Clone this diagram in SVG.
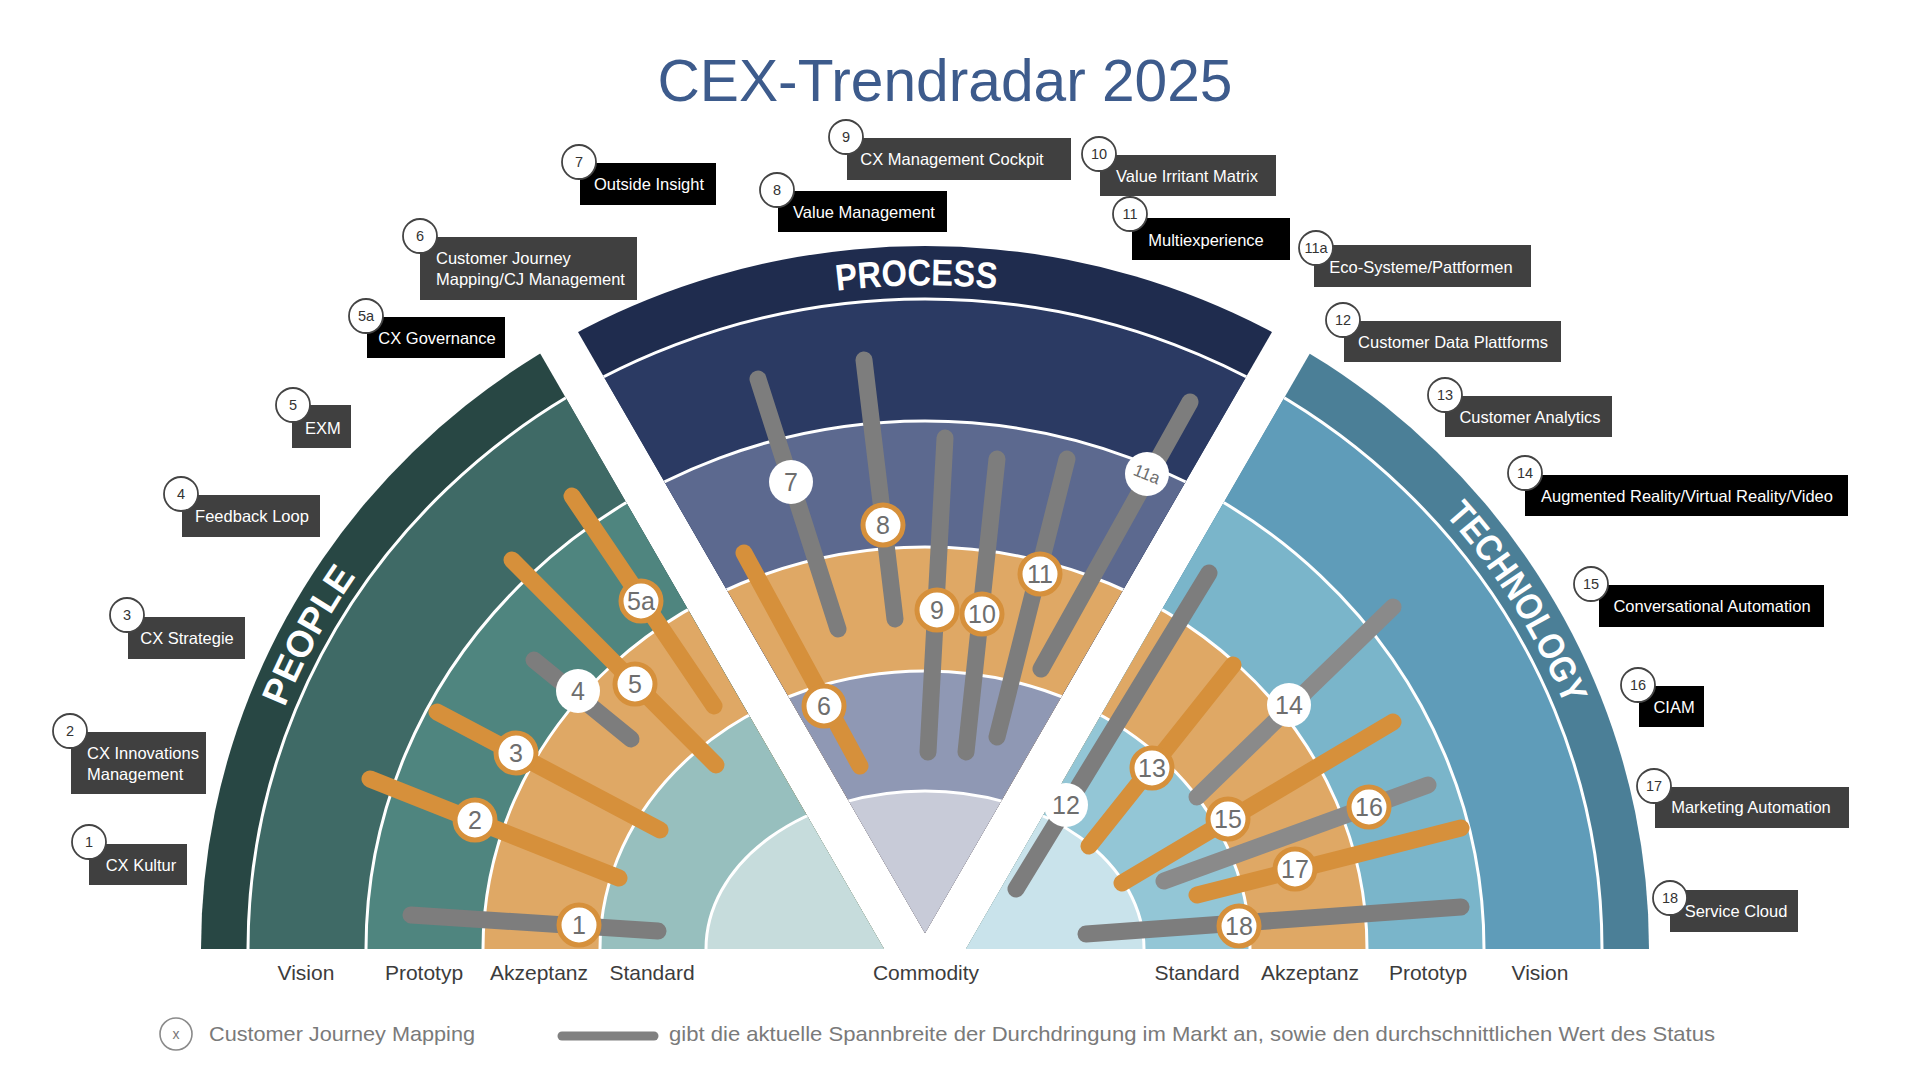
<svg xmlns="http://www.w3.org/2000/svg" width="1920" height="1080" viewBox="0 0 1920 1080">
<defs>
<style>
text{font-family:'Liberation Sans',Arial,sans-serif}
.sep{stroke:#fff;stroke-width:3}
.bar{fill:none;stroke-width:17;stroke-linecap:round}
.bo{stroke:#d6903b}
.bg{stroke:#7d7d7d}
.bo-c{fill:#fff;stroke:#d6903b;stroke-width:5}
.bw-c{fill:#fff}
.bn{font-size:25px;fill:#6e6e6e;text-anchor:middle}
.boxg{fill:#404040}
.boxb{fill:#000}
.lc{fill:#fff;stroke:#444;stroke-width:1.8}
.ln{font-size:14.5px;fill:#333;text-anchor:middle}
.lt{font-size:16.5px;fill:#fff;text-anchor:middle}
.ltl{font-size:16.5px;fill:#fff}
.axis{font-size:21px;fill:#3c3c3c;text-anchor:middle}
.sect{font-size:37px;font-weight:bold;fill:#fff}
</style>
<clipPath id="cp-people"><polygon points="100,949 884,949 393.8,100 100,100"/></clipPath>
<clipPath id="cp-process"><polygon points="925,933 444,100 1406,100"/></clipPath>
<clipPath id="cp-tech"><polygon points="966,949 1456.2,100 1750,100 1750,949"/></clipPath>
<path id="txtarc" d="M 237.4 949 A 687.6 663.6 0 0 1 1612.6 949" fill="none"/>
</defs>
<rect width="1920" height="1080" fill="#fff"/>

<text id="title" x="945" y="101" font-size="59" fill="#3d5b8c" text-anchor="middle" textLength="575" lengthAdjust="spacingAndGlyphs">CEX-Trendradar 2025</text>

<g id="sector-people" clip-path="url(#cp-people)">
<ellipse cx="925" cy="949" rx="724" ry="703" fill="#284744"/>
<ellipse class="sep" cx="925" cy="949" rx="677" ry="650" fill="#3f6a66"/>
<ellipse class="sep" cx="925" cy="949" rx="559" ry="528" fill="#4f857f"/>
<ellipse class="sep" cx="925" cy="949" rx="442" ry="402" fill="#dfa865"/>
<ellipse class="sep" cx="925" cy="949" rx="325" ry="278" fill="#97bfbe"/>
<ellipse class="sep" cx="925" cy="949" rx="219" ry="158" fill="#c6dcdc"/>
</g>
<g id="sector-process" clip-path="url(#cp-process)">
<ellipse cx="925" cy="949" rx="724" ry="703" fill="#1f2c4e"/>
<ellipse class="sep" cx="925" cy="949" rx="677" ry="650" fill="#2b3a63"/>
<ellipse class="sep" cx="925" cy="949" rx="559" ry="528" fill="#5c698f"/>
<ellipse class="sep" cx="925" cy="949" rx="442" ry="402" fill="#dfa865"/>
<ellipse class="sep" cx="925" cy="949" rx="325" ry="278" fill="#8f98b4"/>
<ellipse class="sep" cx="925" cy="949" rx="219" ry="158" fill="#c8cbd8"/>
</g>
<g id="sector-technology" clip-path="url(#cp-tech)">
<ellipse cx="925" cy="949" rx="724" ry="703" fill="#4b7f97"/>
<ellipse class="sep" cx="925" cy="949" rx="677" ry="650" fill="#5f9cb9"/>
<ellipse class="sep" cx="925" cy="949" rx="559" ry="528" fill="#7ab5ca"/>
<ellipse class="sep" cx="925" cy="949" rx="442" ry="402" fill="#dfa865"/>
<ellipse class="sep" cx="925" cy="949" rx="325" ry="278" fill="#93c6d6"/>
<ellipse class="sep" cx="925" cy="949" rx="219" ry="158" fill="#c9e3eb"/>
</g>

<g id="sector-titles">
<text class="sect"><textPath href="#txtarc" startOffset="15.2%" text-anchor="middle" textLength="150" lengthAdjust="spacingAndGlyphs">PEOPLE</textPath></text>
<text class="sect"><textPath href="#txtarc" startOffset="49.6%" text-anchor="middle" textLength="160" lengthAdjust="spacingAndGlyphs">PROCESS</textPath></text>
<text class="sect"><textPath href="#txtarc" startOffset="82.9%" text-anchor="middle" textLength="226" lengthAdjust="spacingAndGlyphs">TECHNOLOGY</textPath></text>
</g>

<g id="ranges">
<line class="bar bg" x1="411" y1="915" x2="658" y2="931"/>
<line class="bar bo" x1="370" y1="779" x2="619" y2="878"/>
<line class="bar bo" x1="437" y1="712" x2="660" y2="830"/>
<line class="bar bg" x1="534" y1="660" x2="631" y2="739"/>
<line class="bar bo" x1="512" y1="560" x2="716" y2="765"/>
<line class="bar bo" x1="572" y1="496" x2="714" y2="706"/>
<line class="bar bo" x1="744" y1="553" x2="860" y2="766"/>
<line class="bar bg" x1="758" y1="379" x2="838" y2="629"/>
<line class="bar bg" x1="864" y1="360" x2="895" y2="619"/>
<line class="bar bg" x1="945" y1="438" x2="928" y2="752"/>
<line class="bar bg" x1="997" y1="459" x2="966" y2="752"/>
<line class="bar bg" x1="1067" y1="459" x2="997" y2="737"/>
<line class="bar bg" x1="1190" y1="402" x2="1041" y2="669"/>
<line class="bar bg" x1="1209" y1="573" x2="1016" y2="889"/>
<line class="bar bo" x1="1233" y1="665" x2="1089" y2="846"/>
<line class="bar bg" x1="1393" y1="607" x2="1197" y2="797" style="stroke:#8a8a8a"/>
<line class="bar bo" x1="1393" y1="722" x2="1122" y2="883"/>
<line class="bar bg" x1="1428" y1="785" x2="1164" y2="881" style="stroke:#8a8a8a"/>
<line class="bar bo" x1="1461" y1="828" x2="1197" y2="895"/>
<line class="bar bg" x1="1461" y1="907" x2="1086" y2="934"/>
</g>

<g id="item-1"><circle class="bo-c" cx="579" cy="925" r="20"/><text class="bn" x="579" y="934">1</text></g>
<g id="item-2"><circle class="bo-c" cx="475" cy="820" r="20"/><text class="bn" x="475" y="829">2</text></g>
<g id="item-3"><circle class="bo-c" cx="516" cy="753" r="20"/><text class="bn" x="516" y="762">3</text></g>
<g id="item-4"><circle class="bw-c" cx="578" cy="691" r="22"/><text class="bn" x="578" y="700">4</text></g>
<g id="item-5"><circle class="bo-c" cx="635" cy="684" r="20"/><text class="bn" x="635" y="693">5</text></g>
<g id="item-5a"><circle class="bo-c" cx="641" cy="601" r="20"/><text class="bn" x="641" y="610">5a</text></g>
<g id="item-6"><circle class="bo-c" cx="824" cy="706" r="20"/><text class="bn" x="824" y="715">6</text></g>
<g id="item-7"><circle class="bw-c" cx="791" cy="482" r="22"/><text class="bn" x="791" y="491">7</text></g>
<g id="item-8"><circle class="bo-c" cx="883" cy="525" r="20"/><text class="bn" x="883" y="534">8</text></g>
<g id="item-9"><circle class="bo-c" cx="937" cy="610" r="20"/><text class="bn" x="937" y="619">9</text></g>
<g id="item-10"><circle class="bo-c" cx="982" cy="614" r="20"/><text class="bn" x="982" y="623">10</text></g>
<g id="item-11"><circle class="bo-c" cx="1040" cy="574" r="20"/><text class="bn" x="1040" y="583">11</text></g>
<g id="item-11a"><circle class="bw-c" cx="1147" cy="474" r="22"/><text class="bn" x="1147" y="480" transform="rotate(22 1147 474)" style="font-size:17px">11a</text></g>
<g id="item-12"><circle class="bw-c" cx="1066" cy="805" r="22"/><text class="bn" x="1066" y="814">12</text></g>
<g id="item-13"><circle class="bo-c" cx="1152" cy="768" r="20"/><text class="bn" x="1152" y="777">13</text></g>
<g id="item-14"><circle class="bw-c" cx="1289" cy="705" r="22"/><text class="bn" x="1289" y="714">14</text></g>
<g id="item-15"><circle class="bo-c" cx="1228" cy="819" r="20"/><text class="bn" x="1228" y="828">15</text></g>
<g id="item-16"><circle class="bo-c" cx="1369" cy="807" r="20"/><text class="bn" x="1369" y="816">16</text></g>
<g id="item-17"><circle class="bo-c" cx="1295" cy="869" r="20"/><text class="bn" x="1295" y="878">17</text></g>
<g id="item-18"><circle class="bo-c" cx="1239" cy="926" r="20"/><text class="bn" x="1239" y="935">18</text></g>

<g id="label-1"><rect class="boxg" x="89" y="844" width="98" height="41"/><text class="lt" x="141" y="871">CX Kultur</text><circle class="lc" cx="89" cy="842" r="17"/><text class="ln" x="89" y="847">1</text></g>
<g id="label-2"><rect class="boxg" x="71" y="732" width="135" height="62"/><text class="ltl" x="87" y="759">CX Innovations</text><text class="ltl" x="87" y="780">Management</text><circle class="lc" cx="70" cy="731" r="17"/><text class="ln" x="70" y="736">2</text></g>
<g id="label-3"><rect class="boxg" x="128" y="617" width="117" height="42"/><text class="lt" x="187" y="644">CX Strategie</text><circle class="lc" cx="127" cy="615" r="17"/><text class="ln" x="127" y="620">3</text></g>
<g id="label-4"><rect class="boxg" x="182" y="495" width="138" height="42"/><text class="lt" x="252" y="522">Feedback Loop</text><circle class="lc" cx="181" cy="494" r="17"/><text class="ln" x="181" y="499">4</text></g>
<g id="label-5"><rect class="boxg" x="292" y="405" width="59" height="43"/><text class="lt" x="323" y="434">EXM</text><circle class="lc" cx="293" cy="405" r="17"/><text class="ln" x="293" y="410">5</text></g>
<g id="label-5a"><rect class="boxb" x="367" y="317" width="138" height="41"/><text class="lt" x="437" y="344">CX Governance</text><circle class="lc" cx="366" cy="316" r="17"/><text class="ln" x="366" y="321">5a</text></g>
<g id="label-6"><rect class="boxg" x="420" y="237" width="217" height="63"/><text class="ltl" x="436" y="264">Customer Journey</text><text class="ltl" x="436" y="285">Mapping/CJ Management</text><circle class="lc" cx="420" cy="236" r="17"/><text class="ln" x="420" y="241">6</text></g>
<g id="label-7"><rect class="boxb" x="580" y="163" width="136" height="42"/><text class="lt" x="649" y="190">Outside Insight</text><circle class="lc" cx="579" cy="162" r="17"/><text class="ln" x="579" y="167">7</text></g>
<g id="label-8"><rect class="boxb" x="778" y="191" width="169" height="41"/><text class="lt" x="864" y="218">Value Management</text><circle class="lc" cx="777" cy="190" r="17"/><text class="ln" x="777" y="195">8</text></g>
<g id="label-9"><rect class="boxg" x="847" y="138" width="224" height="42"/><text class="lt" x="952" y="165">CX Management Cockpit</text><circle class="lc" cx="846" cy="137" r="17"/><text class="ln" x="846" y="142">9</text></g>
<g id="label-10"><rect class="boxg" x="1100" y="155" width="176" height="41"/><text class="lt" x="1187" y="182">Value Irritant Matrix</text><circle class="lc" cx="1099" cy="154" r="17"/><text class="ln" x="1099" y="159">10</text></g>
<g id="label-11"><rect class="boxb" x="1132" y="218" width="158" height="42"/><text class="lt" x="1206" y="246">Multiexperience</text><circle class="lc" cx="1130" cy="214" r="17"/><text class="ln" x="1130" y="219">11</text></g>
<g id="label-11a"><rect class="boxg" x="1314" y="245" width="217" height="42"/><text class="lt" x="1421" y="273">Eco-Systeme/Pattformen</text><circle class="lc" cx="1316" cy="248" r="17"/><text class="ln" x="1316" y="253">11a</text></g>
<g id="label-12"><rect class="boxg" x="1344" y="321" width="217" height="41"/><text class="lt" x="1453" y="348">Customer Data Plattforms</text><circle class="lc" cx="1343" cy="320" r="17"/><text class="ln" x="1343" y="325">12</text></g>
<g id="label-13"><rect class="boxg" x="1445" y="396" width="167" height="41"/><text class="lt" x="1530" y="423">Customer Analytics</text><circle class="lc" cx="1445" cy="395" r="17"/><text class="ln" x="1445" y="400">13</text></g>
<g id="label-14"><rect class="boxb" x="1525" y="475" width="323" height="41"/><text class="lt" x="1687" y="502">Augmented Reality/Virtual Reality/Video</text><circle class="lc" cx="1525" cy="473" r="17"/><text class="ln" x="1525" y="478">14</text></g>
<g id="label-15"><rect class="boxb" x="1599" y="585" width="225" height="42"/><text class="lt" x="1712" y="612">Conversational Automation</text><circle class="lc" cx="1591" cy="584" r="17"/><text class="ln" x="1591" y="589">15</text></g>
<g id="label-16"><rect class="boxb" x="1639" y="686" width="65" height="41"/><text class="lt" x="1674" y="713">CIAM</text><circle class="lc" cx="1638" cy="685" r="17"/><text class="ln" x="1638" y="690">16</text></g>
<g id="label-17"><rect class="boxg" x="1655" y="787" width="194" height="41"/><text class="lt" x="1751" y="813">Marketing Automation</text><circle class="lc" cx="1654" cy="786" r="17"/><text class="ln" x="1654" y="791">17</text></g>
<g id="label-18"><rect class="boxg" x="1670" y="890" width="128" height="42"/><text class="lt" x="1736" y="917">Service Cloud</text><circle class="lc" cx="1670" cy="898" r="17"/><text class="ln" x="1670" y="903">18</text></g>

<g id="axis-labels">
<text class="axis" x="306" y="980">Vision</text>
<text class="axis" x="424" y="980">Prototyp</text>
<text class="axis" x="539" y="980">Akzeptanz</text>
<text class="axis" x="652" y="980">Standard</text>
<text class="axis" x="926" y="980">Commodity</text>
<text class="axis" x="1197" y="980">Standard</text>
<text class="axis" x="1310" y="980">Akzeptanz</text>
<text class="axis" x="1428" y="980">Prototyp</text>
<text class="axis" x="1540" y="980">Vision</text>
</g>

<g id="legend">
<circle cx="176" cy="1034" r="16" fill="#fff" stroke="#8a8a8a" stroke-width="1.6"/>
<text x="176" y="1039" font-size="14" fill="#777" text-anchor="middle">x</text>
<text x="209" y="1041" font-size="21" fill="#7a7a7a" textLength="266" lengthAdjust="spacingAndGlyphs">Customer Journey Mapping</text>
<line x1="562" y1="1036" x2="654" y2="1036" stroke="#808080" stroke-width="9" stroke-linecap="round"/>
<text x="669" y="1041" font-size="21" fill="#7a7a7a" textLength="1046" lengthAdjust="spacingAndGlyphs">gibt die aktuelle Spannbreite der Durchdringung im Markt an, sowie den durchschnittlichen Wert des Status</text>
</g>
</svg>
